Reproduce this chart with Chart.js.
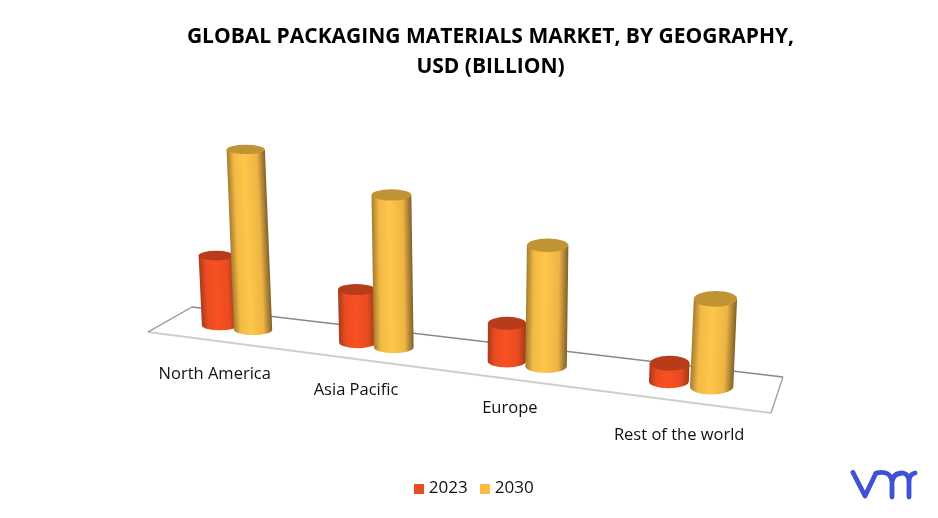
<!DOCTYPE html>
<html><head><meta charset="utf-8">
<style>html,body{margin:0;padding:0;background:#fff}canvas{display:block}</style>
<script src="https://cdn.jsdelivr.net/npm/chart.js@4"></script></head>
<body><canvas id="c" width="938" height="518"></canvas>
<script>
const categories = ['North America', 'Asia Pacific', 'Europe', 'Rest of the world'];
const series2023 = [69, 50.5, 34.6, 16];
const series2030 = [176, 143, 109, 76];
const seriesNames = ['2023', '2030'];
const seriesColors = ['#ea4b22', '#ffba42'];
const titleLines = ['GLOBAL PACKAGING MATERIALS MARKET, BY GEOGRAPHY,', 'USD (BILLION)'];

const Y_MAX = 200;
const K = 0.85;                                   // foreshortening of the floor
const FLOOR = {fl:[148,332], fr:[771,413], br:[783,377], bl:[192,307]};
const MID = {x0:170.5, y0:319.5, x1:777.5, y1:395};   // floor line the cylinders stand on
const LABEL_NUDGE = [[-21.5,46.5],[-19.5,45.5],[-16.5,44.5],[-11,51.5]];
const SHADES = [
  {edgeL:'#a83a18', inL:'#e84c21', mid:'#f95022', inR:'#ea4c21', edgeR:'#a53816', cap:'#b63c1a'},
  {edgeL:'#a57c2e', inL:'#f2b946', mid:'#ffc64a', inR:'#eeb444', edgeR:'#80602a', cap:'#c09433'}
];
const FONT = '"Open Sans", sans-serif';

const warp = u => u * K / (1 + (K - 1) * u);
const px = u => MID.x0 + (MID.x1 - MID.x0) * warp(u);
const py = u => MID.y0 + (MID.y1 - MID.y0) * warp(u);
const grow = u => 1 / (1 + (K - 1) * u);

function line(ctx, a, b, color, w) {
  ctx.strokeStyle = color; ctx.lineWidth = w;
  ctx.beginPath(); ctx.moveTo(a[0], a[1]); ctx.lineTo(b[0], b[1]); ctx.stroke();
}
function drawFloor(ctx) {
  const f = FLOOR;
  ctx.save();
  line(ctx, f.fl, f.fr, '#cfcfcf', 2);
  line(ctx, f.fl, f.bl, '#8f8f8f', 1.3);
  line(ctx, f.bl, f.br, '#8a8a8a', 1.5);
  line(ctx, f.br, f.fr, '#9a9a9a', 1.3);
  ctx.restore();
}
function drawCylinder(ctx, el, shade, area) {
  const span = area.right - area.left;
  const uc = (el.x - area.left) / span;
  const bx = px(uc), by = py(uc);
  const w = (el.width / span) * (MID.x1 - MID.x0) * K * grow(uc), rx = w / 2;
  const h = (el.base - el.y) * (Y_MAX / area.height) * grow(uc);
  const ryTop = rx * (0.28 + 0.12 * uc - 0.0003 * h);
  const ryBase = rx * (0.26 + 0.10 * uc);
  const lean = (bx - 475) * 0.000183;             // tops spread away from the centre
  const ty = by - h;
  ctx.save();
  ctx.transform(1, 0, -lean, 1, lean * by, 0);
  const g = ctx.createLinearGradient(bx - rx, 0, bx + rx, 0);
  g.addColorStop(0, shade.edgeL);
  g.addColorStop(0.18, shade.inL);
  g.addColorStop(0.45, shade.mid);
  g.addColorStop(0.78, shade.inR);
  g.addColorStop(1, shade.edgeR);
  ctx.fillStyle = g;
  ctx.beginPath();
  ctx.moveTo(bx - rx, ty);
  ctx.lineTo(bx - rx, by);
  ctx.ellipse(bx, by, rx, ryBase, 0, Math.PI, 0, true);
  ctx.lineTo(bx + rx, ty);
  ctx.closePath();
  ctx.fill();
  ctx.fillStyle = shade.cap;
  ctx.beginPath();
  ctx.ellipse(bx, ty, rx, ryTop, 0, 0, Math.PI * 2);
  ctx.fill();
  ctx.restore();
}
function drawLogo(ctx) {
  ctx.save();
  ctx.strokeStyle = '#3f51d6'; ctx.lineWidth = 4.8; ctx.lineCap = 'round'; ctx.lineJoin = 'round';
  ctx.beginPath();
  ctx.moveTo(853, 472.5); ctx.lineTo(865, 496); ctx.lineTo(876, 473);
  ctx.quadraticCurveTo(891, 470, 892, 482); ctx.lineTo(892, 497);
  ctx.moveTo(892, 482); ctx.quadraticCurveTo(893, 473, 903, 473);
  ctx.quadraticCurveTo(909, 474, 909, 482); ctx.lineTo(909, 497);
  ctx.moveTo(909, 482); ctx.quadraticCurveTo(909, 474, 915, 473);
  ctx.stroke();
  ctx.restore();
}
function legendSwatch(color) {
  const s = document.createElement('canvas');
  s.width = 10; s.height = 10;
  const c = s.getContext('2d');
  c.fillStyle = color; c.fillRect(0, 0, 10, 10);
  return s;
}

const scene = {
  id: 'scene',
  afterLayout(chart) {
    // the title block sits to the right of the page centre
    const t = chart.titleBlock;
    t.left += 14.5; t.right += 14.5;
  },
  beforeDatasetsDraw(chart) {
    const ctx = chart.ctx, area = chart.chartArea;
    drawFloor(ctx);
    chart.data.datasets.forEach((d, i) => {
      chart.getDatasetMeta(i).data.forEach(el => drawCylinder(ctx, el, SHADES[i], area));
    });
    const xs = chart.scales.x;
    ctx.save();
    ctx.font = '16.5px ' + FONT; ctx.fillStyle = '#111';
    ctx.textAlign = 'center'; ctx.textBaseline = 'middle';
    categories.forEach((_, i) => {
      const u = (xs.getPixelForValue(i) - area.left) / (area.right - area.left);
      ctx.fillText(xs.getLabelForValue(i), px(u) + LABEL_NUDGE[i][0], py(u) + LABEL_NUDGE[i][1]);
    });
    ctx.restore();
    drawLogo(ctx);
    return false;
  }
};

new Chart(document.getElementById('c'), {
  type: 'bar',
  plugins: [scene],
  data: {
    labels: categories,
    datasets: [
      {label: seriesNames[0], data: series2023, backgroundColor: seriesColors[0], barPercentage: 1.08},
      {label: seriesNames[1], data: series2030, backgroundColor: seriesColors[1], barPercentage: 1.16}
    ]
  },
  options: {
    responsive: false, animation: false,
    layout: {padding: {left: 14, right: 0, top: 22, bottom: 11}},
    datasets: {bar: {categoryPercentage: 0.50}},
    scales: {
      x: {display: false},
      y: {display: false, min: 0, max: Y_MAX}
    },
    plugins: {
      tooltip: {enabled: false},
      title: {display: true, text: titleLines, color: '#000',
        font: {family: FONT, size: 21, weight: '700', lineHeight: 1.43}, padding: {top: 0, bottom: 10}},
      legend: {position: 'bottom', labels: {
        usePointStyle: true, pointStyleWidth: 2, boxHeight: 10, padding: 16.5, color: '#111',
        font: {family: FONT, size: 17},
        generateLabels: chart => Chart.defaults.plugins.legend.labels.generateLabels(chart)
          .map((item, i) => Object.assign(item, {pointStyle: legendSwatch(seriesColors[i])}))
      }}
    }
  }
});
</script></body></html>
